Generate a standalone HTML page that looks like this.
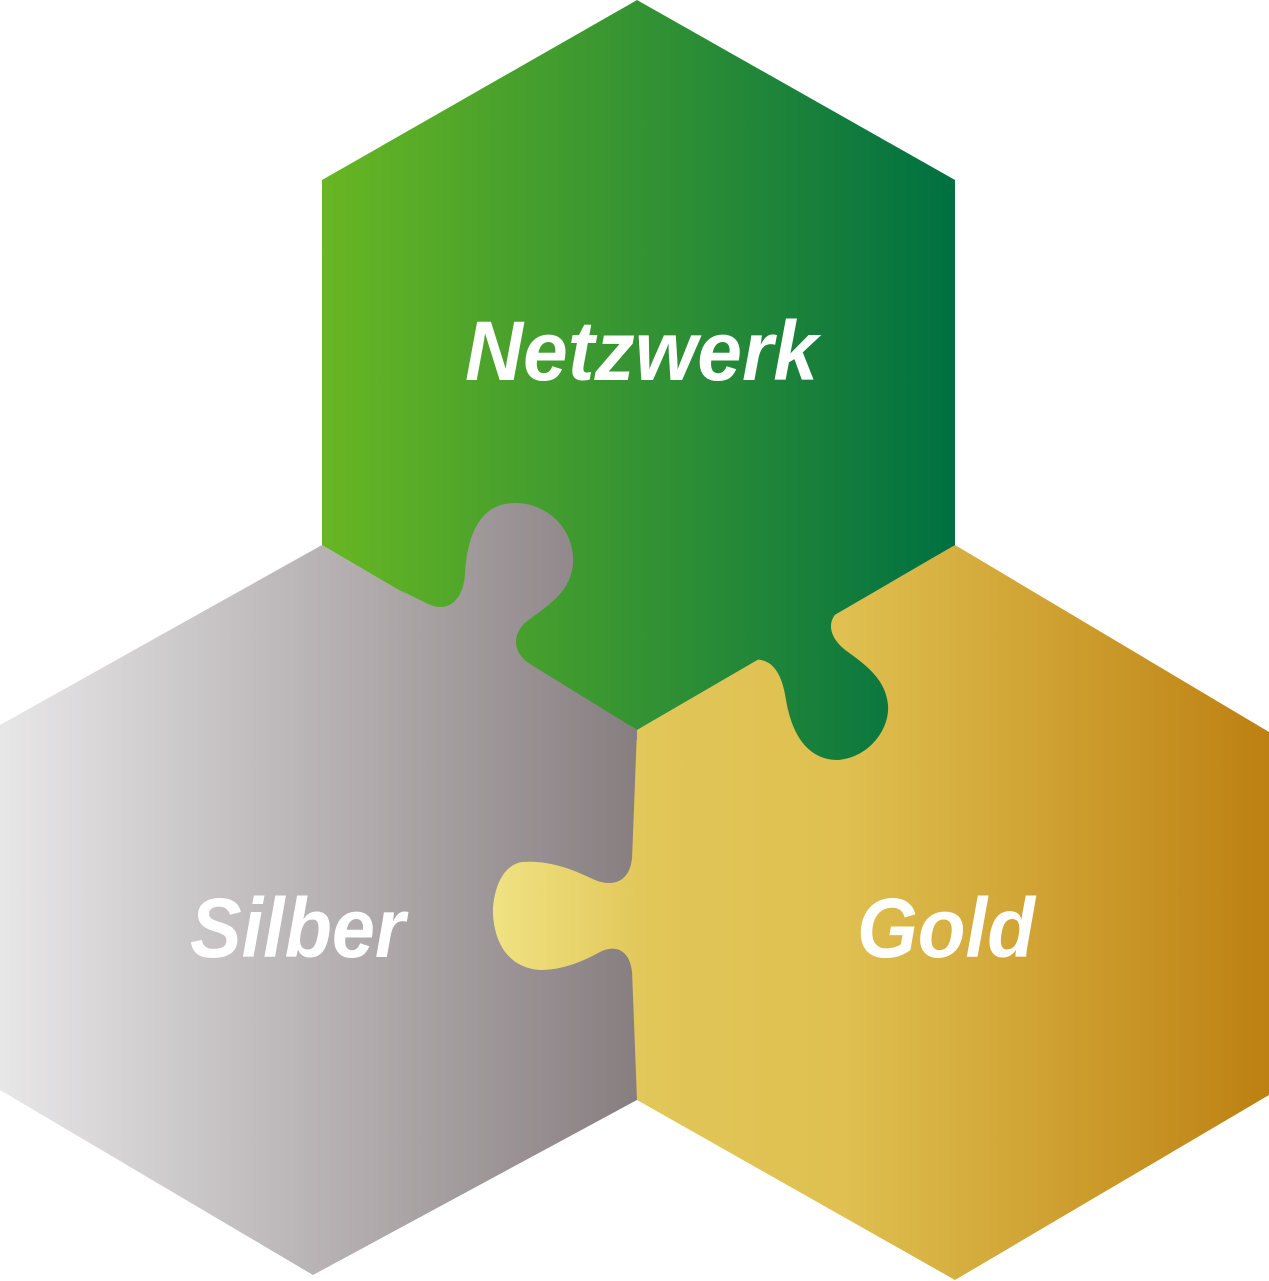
<!DOCTYPE html>
<html><head><meta charset="utf-8"><style>html,body{margin:0;padding:0;background:#fff}svg{display:block}</style></head>
<body>
<svg width="1269" height="1281" viewBox="0 0 1269 1281" xmlns="http://www.w3.org/2000/svg">
<defs>
<linearGradient id="gr" gradientUnits="userSpaceOnUse" x1="322" y1="0" x2="955" y2="0">
<stop offset="0" stop-color="#68b623"/><stop offset="1" stop-color="#007042"/></linearGradient>
<linearGradient id="si" gradientUnits="userSpaceOnUse" x1="0" y1="0" x2="637" y2="0">
<stop offset="0" stop-color="#e8e7e8"/><stop offset="1" stop-color="#877e80"/></linearGradient>
<linearGradient id="go" gradientUnits="userSpaceOnUse" x1="495" y1="0" x2="1269" y2="0">
<stop offset="0" stop-color="#f0e282"/><stop offset="0.2" stop-color="#e1c658"/><stop offset="0.45" stop-color="#dfc050"/><stop offset="1" stop-color="#bd8012"/></linearGradient>
</defs>
<path d="M322,545 L637,730 L637,1100 L313,1275 L0,1090 L0,725 Z" fill="url(#si)"/>
<path d="M955,545 L1269,732 L1269,1095 L955,1280 L637,1100 L632,970 L632,860 L637,730 Z" fill="url(#go)"/>
<path d="M637,0 L955,180 L955,545 L637,730 L322,545 L322,180 Z" fill="url(#gr)"/>
<path d="M400,590 L428,604 C450,614 463,598 465,575 C467,535 480,503 515,503 C548,503 575,530 573,563 C571,598 535,612 522,626 C511,640 516,655 530,664 L637,730 L637,740 Z" fill="url(#si)"/>
<path d="M637,730 L740,664 C770,650 782,672 786,700 C792,735 808,760 838,760 C868,758 890,730 888,705 C886,680 866,665 848,652 C828,638 826,620 840,610 L955,545 L955,520 L637,720 Z" fill="url(#gr)"/>
<path d="M632,858 C630,880 615,888 595,880 C570,868 548,860 522,862 C498,866 492,900 493,915 C495,945 510,968 540,970 C565,970 585,960 600,952 C615,944 630,950 632,972 L645,972 L645,858 Z" fill="url(#go)"/>
<g font-family="Liberation Sans, sans-serif" font-weight="bold" font-style="italic" fill="#fff">
<text x="465" y="380" font-size="84" textLength="353" lengthAdjust="spacingAndGlyphs">Netzwerk</text>
<text x="190" y="957" font-size="84" textLength="215" lengthAdjust="spacingAndGlyphs">Silber</text>
<text x="857" y="957" font-size="84" textLength="178" lengthAdjust="spacingAndGlyphs">Gold</text>
</g>
</svg>
</body></html>
